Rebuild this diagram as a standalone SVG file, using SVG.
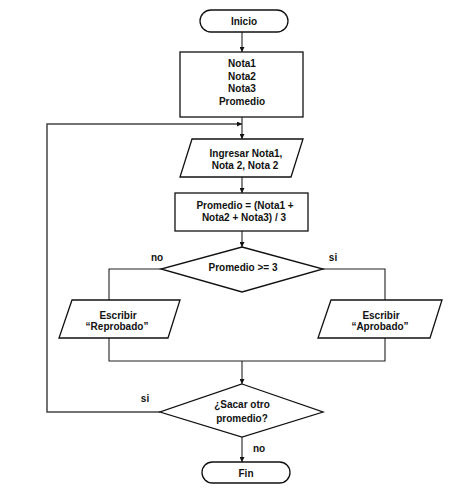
<svg xmlns="http://www.w3.org/2000/svg" width="474" height="503" viewBox="0 0 474 503">
<style>
.s{fill:#fff;stroke:#111;stroke-width:1.3}
.t{font-family:"Liberation Sans",Arial,sans-serif;font-weight:bold;font-size:10px;fill:#111;text-anchor:middle}
.c{fill:none;stroke:#222;stroke-width:1.1}
.l{fill:none;stroke:#444;stroke-width:1.5}
</style>
<defs>
<marker id="a" viewBox="0 0 8 8" refX="8" refY="4" markerWidth="5" markerHeight="5" orient="auto" markerUnits="userSpaceOnUse">
<path d="M0,0 L8,4 L0,8 z" fill="#111"/>
</marker>
</defs>
<rect width="474" height="503" fill="#fff"/>
<g id="connectors">
<line class="c" x1="242" y1="32" x2="242" y2="52" marker-end="url(#a)"/>
<line class="c" x1="242" y1="117" x2="242" y2="139" marker-end="url(#a)"/>
<polyline class="l" points="160,412 47,412 47,124 242,124" marker-end="url(#a)"/>
<line class="c" x1="242" y1="177" x2="242" y2="193" marker-end="url(#a)"/>
<line class="c" x1="242" y1="231" x2="242" y2="247" marker-end="url(#a)"/>
<polyline class="c" points="161,269 109,269 109,300"/>
<polyline class="c" points="323,269 385,269 385,300"/>
<polyline class="c" points="109,338 109,361 385,361 385,338"/>
<line class="c" x1="242" y1="361" x2="242" y2="384" marker-end="url(#a)"/>
<line class="c" x1="242" y1="437" x2="242" y2="462" marker-end="url(#a)"/>
<text class="t" x="157" y="261">no</text>
<text class="t" x="333" y="261">si</text>
<text class="t" x="145" y="402">si</text>
<text class="t" x="259" y="452">no</text>
</g>
<g id="inicio">
<rect class="s" x="200" y="10" width="88" height="22" rx="11"/>
<text class="t" x="244" y="25">Inicio</text>
</g>
<g id="variables">
<rect class="s" x="180" y="52" width="123" height="65"/>
<text class="t" x="242" y="67">Nota1</text>
<text class="t" x="242" y="80">Nota2</text>
<text class="t" x="242" y="92">Nota3</text>
<text class="t" x="242" y="105">Promedio</text>
</g>
<g id="ingresar">
<polygon class="s" points="192,139 303,139 291,177 180,177"/>
<text class="t" x="246" y="156.5">Ingresar Nota1,</text>
<text class="t" x="245" y="168.5">Nota 2, Nota 2</text>
</g>
<g id="calculo">
<rect class="s" x="175" y="193" width="133" height="38"/>
<text class="t" x="245" y="208.5">Promedio = (Nota1 +</text>
<text class="t" x="244" y="220.5">Nota2 + Nota3) / 3</text>
</g>
<g id="decision">
<polygon class="s" points="242,247 323,269 242,292 161,269"/>
<text class="t" x="243" y="270.5">Promedio &gt;= 3</text>
</g>
<g id="reprobado">
<polygon class="s" points="72,300 180,300 168,338 59,338"/>
<text class="t" x="118" y="318.5">Escribir</text>
<text class="t" x="117" y="330">“Reprobado”</text>
</g>
<g id="aprobado">
<polygon class="s" points="331,300 442,300 430,338 318,338"/>
<text class="t" x="381" y="318.5">Escribir</text>
<text class="t" x="380" y="330">“Aprobado”</text>
</g>
<g id="otro">
<polygon class="s" points="242,384 323,412 242,437 160,412"/>
<text class="t" x="242" y="407.5">¿Sacar otro</text>
<text class="t" x="242" y="421.5">promedio?</text>
</g>
<g id="fin">
<rect class="s" x="202" y="462" width="88" height="21" rx="10.5"/>
<text class="t" x="246" y="476.5">Fin</text>
</g>
</svg>
